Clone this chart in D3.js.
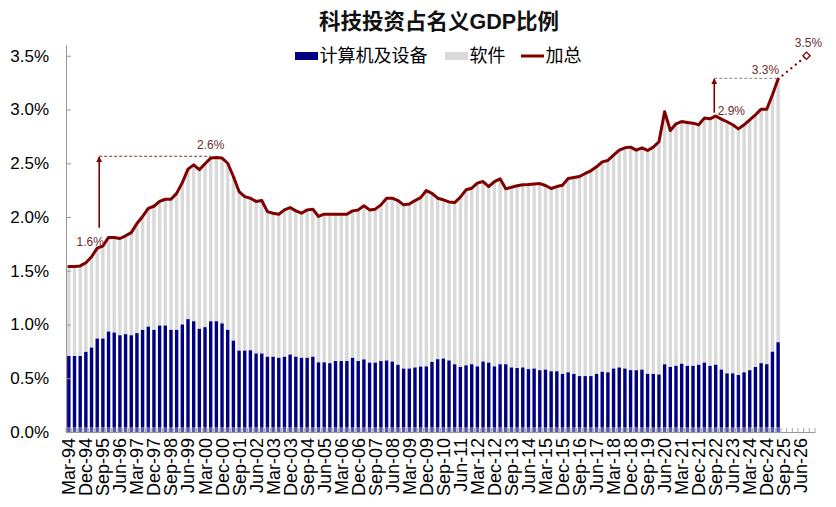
<!DOCTYPE html>
<html><head><meta charset="utf-8">
<script src="https://cdn.jsdelivr.net/npm/d3@7"></script>
<style>
html,body{margin:0;padding:0;background:#fff;}
svg{display:block;font-family:"Liberation Sans",Arial,"Noto Sans CJK SC",sans-serif;}
</style></head><body>
<svg id="chart" width="836" height="507"></svg>
<script>
// ---------------- data ----------------
const title = "科技投资占名义GDP比例";
const seriesNames = ["计算机及设备", "软件", "加总"];

const categories = [
"Mar-94","Jun-94","Sep-94","Dec-94","Mar-95","Jun-95","Sep-95","Dec-95",
"Mar-96","Jun-96","Sep-96","Dec-96","Mar-97","Jun-97","Sep-97","Dec-97",
"Mar-98","Jun-98","Sep-98","Dec-98","Mar-99","Jun-99","Sep-99","Dec-99",
"Mar-00","Jun-00","Sep-00","Dec-00","Mar-01","Jun-01","Sep-01","Dec-01",
"Mar-02","Jun-02","Sep-02","Dec-02","Mar-03","Jun-03","Sep-03","Dec-03",
"Mar-04","Jun-04","Sep-04","Dec-04","Mar-05","Jun-05","Sep-05","Dec-05",
"Mar-06","Jun-06","Sep-06","Dec-06","Mar-07","Jun-07","Sep-07","Dec-07",
"Mar-08","Jun-08","Sep-08","Dec-08","Mar-09","Jun-09","Sep-09","Dec-09",
"Mar-10","Jun-10","Sep-10","Dec-10","Mar-11","Jun-11","Sep-11","Dec-11",
"Mar-12","Jun-12","Sep-12","Dec-12","Mar-13","Jun-13","Sep-13","Dec-13",
"Mar-14","Jun-14","Sep-14","Dec-14","Mar-15","Jun-15","Sep-15","Dec-15",
"Mar-16","Jun-16","Sep-16","Dec-16","Mar-17","Jun-17","Sep-17","Dec-17",
"Mar-18","Jun-18","Sep-18","Dec-18","Mar-19","Jun-19","Sep-19","Dec-19",
"Mar-20","Jun-20","Sep-20","Dec-20","Mar-21","Jun-21","Sep-21","Dec-21",
"Mar-22","Jun-22","Sep-22","Dec-22","Mar-23","Jun-23","Sep-23","Dec-23",
"Mar-24","Jun-24","Sep-24","Dec-24","Mar-25","Jun-25","Sep-25","Dec-25",
"Mar-26","Jun-26","Sep-26","Dec-26"];

const tickLabels = ["Mar-94","Dec-94","Sep-95","Jun-96","Mar-97","Dec-97","Sep-98","Jun-99",
"Mar-00","Dec-00","Sep-01","Jun-02","Mar-03","Dec-03","Sep-04","Jun-05","Mar-06","Dec-06",
"Sep-07","Jun-08","Mar-09","Dec-09","Sep-10","Jun-11","Mar-12","Dec-12","Sep-13","Jun-14",
"Mar-15","Dec-15","Sep-16","Jun-17","Mar-18","Dec-18","Sep-19","Jun-20","Mar-21","Dec-21",
"Sep-22","Jun-23","Mar-24","Dec-24","Sep-25","Jun-26"];

const yTicks = [0, 0.5, 1.0, 1.5, 2.0, 2.5, 3.0, 3.5];

// 计算机及设备 (% of nominal GDP), Mar-94 .. Jun-25
const computer = [
0.707,0.707,0.707,0.745,0.785,0.869,0.869,0.934,0.925,0.90,
0.91,0.90,0.92,0.95,0.98,0.95,0.99,0.99,0.95,0.95,
1.00,1.05,1.03,0.96,0.975,1.03,1.03,1.01,0.95,0.85,
0.757,0.757,0.76,0.73,0.73,0.70,0.70,0.69,0.70,0.72,
0.70,0.69,0.69,0.70,0.648,0.648,0.64,0.66,0.66,0.66,
0.69,0.66,0.675,0.645,0.645,0.66,0.665,0.655,0.625,0.59,
0.59,0.60,0.608,0.61,0.652,0.677,0.683,0.665,0.63,0.605,
0.62,0.63,0.61,0.655,0.645,0.61,0.63,0.63,0.60,0.595,
0.60,0.585,0.59,0.575,0.58,0.565,0.565,0.54,0.555,0.54,
0.52,0.52,0.52,0.54,0.56,0.555,0.59,0.60,0.59,0.575,
0.575,0.58,0.54,0.54,0.535,0.63,0.605,0.615,0.635,0.615,
0.615,0.625,0.645,0.615,0.625,0.58,0.545,0.545,0.53,0.555,
0.575,0.605,0.64,0.63,0.747,0.835];

// 加总 (computer + software), Mar-94 .. Jun-25
const total = [
1.54,1.54,1.545,1.575,1.63,1.71,1.73,1.81,1.81,1.80,
1.825,1.855,1.94,2.005,2.08,2.10,2.145,2.165,2.165,2.22,
2.32,2.445,2.485,2.44,2.495,2.548,2.553,2.548,2.50,2.377,
2.237,2.19,2.175,2.145,2.153,2.05,2.035,2.026,2.066,2.088,
2.057,2.035,2.066,2.073,2.005,2.026,2.026,2.026,2.026,2.026,
2.057,2.066,2.104,2.066,2.073,2.113,2.175,2.175,2.153,2.113,
2.12,2.153,2.18,2.246,2.22,2.175,2.16,2.14,2.134,2.185,
2.253,2.268,2.315,2.33,2.283,2.33,2.355,2.262,2.277,2.29,
2.30,2.302,2.308,2.311,2.293,2.265,2.283,2.296,2.358,2.367,
2.377,2.405,2.43,2.467,2.513,2.526,2.575,2.622,2.644,2.65,
2.622,2.644,2.619,2.65,2.70,2.98,2.805,2.867,2.888,2.88,
2.873,2.858,2.92,2.913,2.94,2.91,2.886,2.858,2.82,2.858,
2.904,2.95,3.003,3.003,3.137,3.283];

// projection (dotted)
const projCats = ["Jun-25", "Sep-26"];
const projVals = [3.283, 3.5];

// annotation arrows: category, start value, end value, dashed line to category
const arrowCats = ["Jun-95", "Sep-22"];
const arrowFrom = [1.90, 2.97];
const arrowTo = [2.565, 3.29];
const arrowToCats = ["Jun-00", "Jun-25"];

// annotation labels
const noteCats = ["Jun-95", "Jun-00", "Sep-22", "Jun-25", "Sep-26"];
const noteVals = [1.77, 2.67, 2.99, 3.37, 3.62];
const noteTexts = ["1.6%", "2.6%", "2.9%", "3.3%", "3.5%"];

// ---------------- drawing ----------------
const W = 836, H = 507;
const L = 66, R = 815, T = 45, B = 432;
const C_COMP = "#000080", C_SOFT = "#d9d9d9", C_TOT = "#800000";

const svg = d3.select("#chart");
svg.append("rect").attr("width", W).attr("height", H).attr("fill", "#fff");

const x = d3.scaleBand().domain(categories).range([L, R]).paddingInner(0.4).paddingOuter(0.2);
const y = d3.scaleLinear().domain([0, 3.6]).range([B, T]);
const xc = c => x(c) + x.bandwidth() / 2;

const data = total.map((t, i) => ({ c: categories[i], comp: computer[i], tot: t }));

// software (stacked on top of computer)
svg.append("g").selectAll("rect").data(data).join("rect")
  .attr("x", d => x(d.c)).attr("width", x.bandwidth())
  .attr("y", d => y(d.tot)).attr("height", d => y(d.comp) - y(d.tot))
  .attr("fill", C_SOFT);
// computer
svg.append("g").selectAll("rect").data(data).join("rect")
  .attr("x", d => x(d.c)).attr("width", x.bandwidth())
  .attr("y", d => y(d.comp)).attr("height", d => y(0) - y(d.comp))
  .attr("fill", C_COMP);

// light strip at the foot of bars
svg.append("rect").attr("x", L).attr("width", xc(data[data.length-1].c) + x.bandwidth()/2 - L)
  .attr("y", y(0) - 5).attr("height", 5).attr("fill", "#fff").attr("opacity", 0.35);

// y axis
const yAxis = d3.axisLeft(y).tickValues(yTicks).tickSize(-5).tickSizeOuter(0).tickPadding(17)
  .tickFormat(d => d.toFixed(1) + "%");
const gy = svg.append("g").attr("transform", `translate(${L},0)`).call(yAxis);
gy.select(".domain").attr("stroke", "#999");
gy.selectAll(".tick line").attr("stroke", "#999");
gy.selectAll(".tick text").attr("font-size", 17).attr("fill", "#000")
  .attr("font-family", "'Liberation Sans', Arial, sans-serif");

// x axis
const xAxis = d3.axisBottom(x).tickValues(tickLabels).tickSize(0).tickSizeOuter(0);
const gx = svg.append("g").attr("transform", `translate(0,${B})`).call(xAxis);
gx.select(".domain").attr("stroke", "#999");
gx.selectAll(".tick text")
  .attr("font-size", 18).attr("fill", "#000")
  .attr("font-family", "'Liberation Sans', Arial, sans-serif")
  .attr("transform", "rotate(-90)")
  .attr("x", -6).attr("y", 0).attr("dy", "0.36em")
  .style("text-anchor", "end");
// inside category tick marks
const step = x.step();
const boundaries = categories.map(c => x(c) - step * 0.2).concat([R]);
svg.append("g").selectAll("line").data(boundaries).join("line")
  .attr("x1", d => d).attr("x2", d => d).attr("y1", B).attr("y2", B - 4)
  .attr("stroke", "#a6a6a6").attr("stroke-width", 1);

// total line
const line = d3.line().x(d => xc(d.c)).y(d => y(d.tot)).curve(d3.curveLinear);
svg.append("path").datum(data).attr("d", line)
  .attr("fill", "none").attr("stroke", C_TOT).attr("stroke-width", 3)
  .attr("stroke-linejoin", "round").attr("stroke-linecap", "round");

// projection dotted line + diamond
const proj = projCats.map((c, i) => ({ c, v: projVals[i] }));
svg.append("path").datum(proj)
  .attr("d", d3.line().x(d => xc(d.c)).y(d => y(d.v)))
  .attr("fill", "none").attr("stroke", C_TOT).attr("stroke-width", 2.3)
  .attr("stroke-dasharray", "0.1 5.6").attr("stroke-linecap", "round");
svg.append("path")
  .attr("d", d3.symbol(d3.symbolSquare, 26)())
  .attr("transform", `translate(${xc(proj[1].c)},${y(proj[1].v)}) rotate(45)`)
  .attr("fill", "#fff").attr("stroke", C_TOT).attr("stroke-width", 1.3);

// arrows
const defs = svg.append("defs");
defs.append("marker").attr("id", "ah").attr("viewBox", "0 0 10 10")
  .attr("refX", 9).attr("refY", 5).attr("markerWidth", 6).attr("markerHeight", 8)
  .attr("markerUnits", "userSpaceOnUse").attr("orient", "auto")
  .append("path").attr("d", "M0,0L10,5L0,10z").attr("fill", C_TOT);

const dashCols = ["#8b2a2a", "#8c7f7f"];
const arrowOffsets = [0.65, 0.05];
arrowCats.forEach((c, i) => {
  const ax = x(c) + step * arrowOffsets[i];
  svg.append("line")
    .attr("x1", ax).attr("x2", xc(arrowToCats[i]))
    .attr("y1", y(arrowTo[i])).attr("y2", y(arrowTo[i]))
    .attr("stroke", dashCols[i]).attr("stroke-width", 1).attr("stroke-dasharray", "3 2");
  svg.append("line")
    .attr("x1", ax).attr("x2", ax)
    .attr("y1", y(arrowFrom[i])).attr("y2", y(arrowTo[i]) + 0.5)
    .attr("stroke", C_TOT).attr("stroke-width", 1.6)
    .attr("marker-end", "url(#ah)");
});

// notes
const noteDx = [-7, 0, 2, 1, 2];
const noteAnchor = ["middle", "middle", "start", "end", "middle"];
noteTexts.forEach((t, i) => {
  svg.append("text")
    .attr("x", xc(noteCats[i]) + noteDx[i]).attr("y", y(noteVals[i]))
    .attr("dy", "0.35em").attr("text-anchor", noteAnchor[i])
    .attr("font-size", 12).attr("fill", "#6e2a2a")
    .attr("font-family", "'Liberation Sans', Arial, sans-serif")
    .text(t);
});

// title
svg.append("text").attr("x", 439).attr("y", 21).attr("dy", "0.36em")
  .attr("text-anchor", "middle").attr("font-size", 21.5).attr("font-weight", "bold")
  .attr("fill", "#111").text(title);

// legend
const lg = svg.append("g").attr("font-size", 18).attr("fill", "#000");
const legX = [295, 445, 521];
lg.append("rect").attr("x", legX[0]).attr("y", 52).attr("width", 23).attr("height", 8).attr("fill", C_COMP);
lg.append("rect").attr("x", legX[1]).attr("y", 52).attr("width", 23).attr("height", 8).attr("fill", C_SOFT);
lg.append("line").attr("x1", legX[2]).attr("x2", legX[2] + 23).attr("y1", 56).attr("y2", 56)
  .attr("stroke", C_TOT).attr("stroke-width", 3);
seriesNames.forEach((n, i) => {
  lg.append("text").attr("x", legX[i] + 24.5).attr("y", 56).attr("dy", "0.36em")
    .attr("font-family", "'Noto Sans CJK SC', sans-serif").text(n);
});
</script>
</body></html>
